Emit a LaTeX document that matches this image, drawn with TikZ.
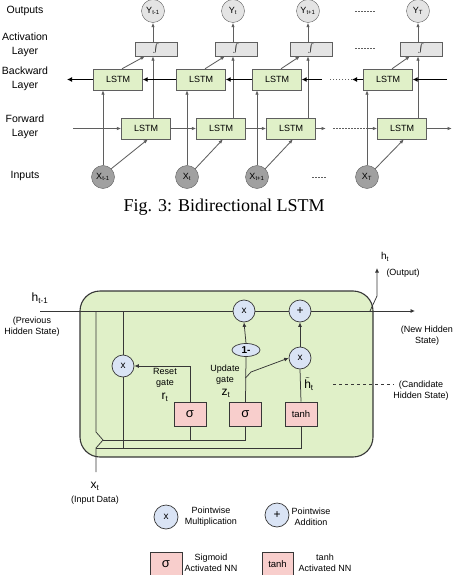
\documentclass[tikz,border=0pt]{standalone}
\usepackage{fontspec}
\usepackage{amsmath}
\setmainfont{Liberation Sans}
\newfontfamily\capfont{Liberation Serif}
\usetikzlibrary{arrows.meta,shapes.geometric}
\definecolor{lgreen}{RGB}{224,240,200}
\definecolor{lblue}{RGB}{218,228,245}
\definecolor{lpink}{RGB}{248,206,204}
\definecolor{lgray}{RGB}{228,228,228}
\definecolor{dgray}{RGB}{160,160,160}
\definecolor{linec}{RGB}{95,95,95}
\definecolor{gline}{RGB}{55,55,55}
\begin{document}
\begin{tikzpicture}[x=1pt,y=-1pt,
  lab/.style={font=\fontsize{10.5}{14}\selectfont, align=center},
  lstm/.style={draw=linec, fill=lgreen, minimum width=49pt, minimum height=21pt, inner sep=0pt, font=\fontsize{9}{10}\selectfont},
  act/.style={draw=linec, fill=lgray, minimum width=42pt, minimum height=14pt, inner sep=0pt, font=\fontsize{9}{10}\selectfont},
  outc/.style={circle, draw=linec, fill=lgray, minimum size=23pt, inner sep=0pt, font=\fontsize{9}{10}\selectfont},
  inc/.style={circle, draw=linec, fill=dgray, minimum size=23pt, inner sep=0pt, font=\fontsize{9}{10}\selectfont},
  ln/.style={draw=linec, line width=0.85pt},
  arr/.style={ln, -{Latex[length=4.5pt,width=3.5pt]}},
  barr/.style={draw=black, line width=1.4pt, -{Latex[length=5pt,width=5pt]}},
  dotl/.style={draw=linec, line width=0.7pt, dash pattern=on 1.5pt off 1.5pt},
  gl/.style={draw=gline, line width=0.75pt},
  garr/.style={gl, -{Latex[length=4.5pt,width=4pt]}},
  gbox/.style={draw=gline, line width=1.1pt, fill=lgreen, rounded corners=20pt},
  pc/.style={circle, draw=gline, line width=0.7pt, fill=lblue, minimum size=22pt, inner sep=0pt, font=\fontsize{10}{11}\selectfont},
  pbox/.style={draw=gline, line width=0.7pt, fill=lpink, minimum width=32pt, minimum height=24pt, inner sep=0pt},
  sm/.style={font=\fontsize{9}{11}\selectfont, align=center, inner sep=0pt},
  big/.style={font=\fontsize{12}{14}\selectfont, inner sep=0pt}
]
\useasboundingbox (0,0) rectangle (474,575);

% ================= Bidirectional LSTM =================
\node[lab] (lo) at (25,11) {Outputs};
\node[lab] (la) at (25,45) {Activation\\Layer};
\node[lab] (lb) at (25,79) {Backward\\Layer};
\node[lab] (lf) at (25,127) {Forward\\Layer};
\node[lab] (li) at (25,176) {Inputs};

% outputs
\node[outc] (y1) at (153,11) {Y\textsubscript{t-1}};
\node[outc] (y2) at (233,11) {Y\textsubscript{t}};
\node[outc] (y3) at (308,11) {Y\textsubscript{t+1}};
\node[outc] (y4) at (418,11) {Y\textsubscript{T}};
% activation
\node[act] (a1) at (156,49) {$\int$};
\node[act] (a2) at (236,49) {$\int$};
\node[act] (a3) at (311,49) {$\int$};
\node[act] (a4) at (421,49) {$\int$};
% backward
\node[lstm] (b1) at (118,79.5) {LSTM};
\node[lstm] (b2) at (201,79.5) {LSTM};
\node[lstm] (b3) at (277,79.5) {LSTM};
\node[lstm] (b4) at (388,79.5) {LSTM};
% forward
\node[lstm] (f1) at (146,128.5) {LSTM};
\node[lstm] (f2) at (221,128.5) {LSTM};
\node[lstm] (f3) at (291,128.5) {LSTM};
\node[lstm] (f4) at (402,128.5) {LSTM};
% inputs
\node[inc] (x1) at (103,177) {X\textsubscript{t-1}};
\node[inc] (x2) at (187,177) {X\textsubscript{t}};
\node[inc] (x3) at (257,177) {X\textsubscript{t+1}};
\node[inc] (x4) at (367,177) {X\textsubscript{T}};

% dotted placeholders
\coordinate (dy1) at (355,11); \coordinate (dy2) at (376,11);
\coordinate (da1) at (355,48); \coordinate (da2) at (376,48);
\coordinate (dx1) at (312,177); \coordinate (dx2) at (327,177);
\draw[dotl] (dy1) -- (dy2);
\draw[dotl] (da1) -- (da2);
\draw[dotl] (dx1) -- (dx2);

% vertical connections per column
\foreach \i in {1,2,3,4}{
  \draw[arr] (a\i.north -| y\i) -- (y\i.south);
  \draw[arr] (f\i.north -| y\i) -- (a\i.south -| y\i);
  \draw[arr] ([xshift=4pt]b\i.north) -- ([xshift=-11pt]a\i.south);
  \draw[arr] (x\i.north) -- (b\i.south -| x\i);
  \draw[arr] (x\i.45) -- ([xshift=2pt]f\i.south);
}

% backward chain
\coordinate (bR) at (447,79.5);
\coordinate (bL) at (67,79.5);
\coordinate (bd1) at (352,79.5);
\coordinate (bd2) at (329,79.5);
\coordinate (bd3) at (322,79.5);
\draw[barr] (bR) -- (b4.east);
\draw[barr] (b4.west) -- (bd1);
\draw[dotl] (bd1) -- (bd2);
\draw[barr] (bd3) -- (b3.east);
\draw[barr] (b3.west) -- (b2.east);
\draw[barr] (b2.west) -- (b1.east);
\draw[barr] (b1.west) -- (bL);

% forward chain
\coordinate (fL) at (73,128.5);
\coordinate (fR) at (452,128.5);
\coordinate (fd1) at (326,128.5);
\coordinate (fd2) at (333,128.5);
\coordinate (fd3) at (368,128.5);
\draw[arr] (fL) -- (f1.west);
\draw[arr] (f1.east) -- (f2.west);
\draw[arr] (f2.east) -- (f3.west);
\draw[arr] (f3.east) -- (fd1);
\draw[dotl] (fd2) -- (fd3);
\draw[arr] (fd3) -- (f4.west);
\draw[arr] (f4.east) -- (fR);

\node[font=\capfont\fontsize{18}{20}\selectfont] (cap) at (224,207) {Fig. 3: Bidirectional LSTM};

% ================= GRU cell =================
\draw[gbox] (80,291) rectangle (373,457);

\node[big] (hprev) at (40,298) {h\textsubscript{t-1}};
\node[sm] (hprevl) at (32,327) {(Previous\\Hidden State)};
\node[font=\fontsize{10}{11}\selectfont, inner sep=0pt] (ht) at (385,257) {h\textsubscript{t}};
\node[sm] (outl) at (403,273) {(Output)};
\node[sm] (newl) at (427,336) {(New Hidden\\State)};

\node[pc] (m1) at (244,311) {x};
\node[pc, font=\fontsize{12}{13}\selectfont] (p1) at (300,311) {+};
\node[ellipse, draw=gline, line width=0.7pt, fill=lblue, minimum width=28pt, minimum height=13pt, inner sep=0pt, font=\fontsize{10}{11}\selectfont\bfseries] (om) at (246,350) {1-};
\node[pc] (m2) at (300,358) {x};
\node[pc] (mr) at (123,366) {x};

\node[pbox, font=\fontsize{13}{14}\selectfont] (rs) at (190,414.5) {σ};
\node[pbox, font=\fontsize{13}{14}\selectfont] (zs) at (245.5,414.5) {σ};
\node[pbox, font=\fontsize{9.5}{11}\selectfont] (th) at (301,414) {tanh};

\node[sm] (rl) at (165,377.5) {Reset\\gate};
\node[big] (rt) at (165,397) {r\textsubscript{t}};
\node[sm] (ul) at (225,374.5) {Update\\gate};
\node[big] (zt) at (226,393) {z\textsubscript{t}};
\node[big] (htl) at (309,384) {$\tilde{\text{h}}$\textsubscript{t}};
\node[sm] (candl) at (421,391) {(Candidate\\Hidden State)};

\node[big] (xt) at (95,486) {x\textsubscript{t}};
\node[sm] (xtl) at (95,500) {(Input Data)};

% top line
\coordinate (hin) at (40,311);
\coordinate (hout) at (415,311);
\draw[gl] (hin) -- (m1.west);
\draw[gl] (m1.east) -- (p1.west);
\draw[garr] (p1.east) -- (hout);
\coordinate (hb) at (370,311);
\coordinate (hk) at (377,296);
\coordinate (htop) at (377,268);
\draw[garr] (hb) -- (hk) -- (htop);

% left verticals and junction
\coordinate (j0) at (96,311);
\coordinate (j1) at (96,432);
\coordinate (jt) at (103,440);
\coordinate (j2) at (96,448);
\coordinate (xin) at (96,472);
\draw[gl] (j0) -- (j1) -- (jt) -- (j2) -- (xin);
\draw[gl] (jt) -- (jt -| zs);
\draw[gl] (rs.south) -- (rs.south |- jt);
\draw[gl] (zs.south) -- (zs.south |- jt);
\draw[gl] (j2) -- (j2 -| th) -- (th.south);
\coordinate (r0) at (123,311);
\draw[gl] (r0) -- (mr.north);
\draw[gl] (mr.south) -- (mr.south |- j2);

% gates
\draw[garr] (rs.north) -- (rs.north |- mr) -- (mr.east);
\draw[gl] (zs.north) -- (om.south);
\coordinate (zb) at (245.5,378);
\coordinate (zk) at (251,372);
\draw[garr] (zb) -- (zk) -- (m2.west);
\draw[garr] (om.north) -- (m1.south);
\draw[gl] (th.north) -- (m2.south);
\draw[garr] (m2.north) -- (p1.south);
\coordinate (dsh1) at (333,384);
\draw[gl, dashed] (dsh1) -- (candl.west |- dsh1);

% legend
\node[pc, minimum size=24pt] (lm) at (166,517) {x};
\node[sm] (lml) at (211,516.5) {Pointwise\\Multiplication};
\node[pc, minimum size=24pt, font=\fontsize{12}{13}\selectfont] (lp) at (277,515) {+};
\node[sm] (lpl) at (311,516.5) {Pointwise\\Addition};
\node[pbox, minimum height=23pt, font=\fontsize{13}{14}\selectfont] (ls) at (166,564) {σ};
\node[sm] (lsl) at (211,563) {Sigmoid\\Activated NN};
\node[pbox, minimum height=23pt, minimum width=31pt, font=\fontsize{9.5}{11}\selectfont] (lt) at (277.5,564) {tanh};
\node[sm] (ltl) at (325,562.5) {tanh\\Activated NN};
\end{tikzpicture}
\end{document}
